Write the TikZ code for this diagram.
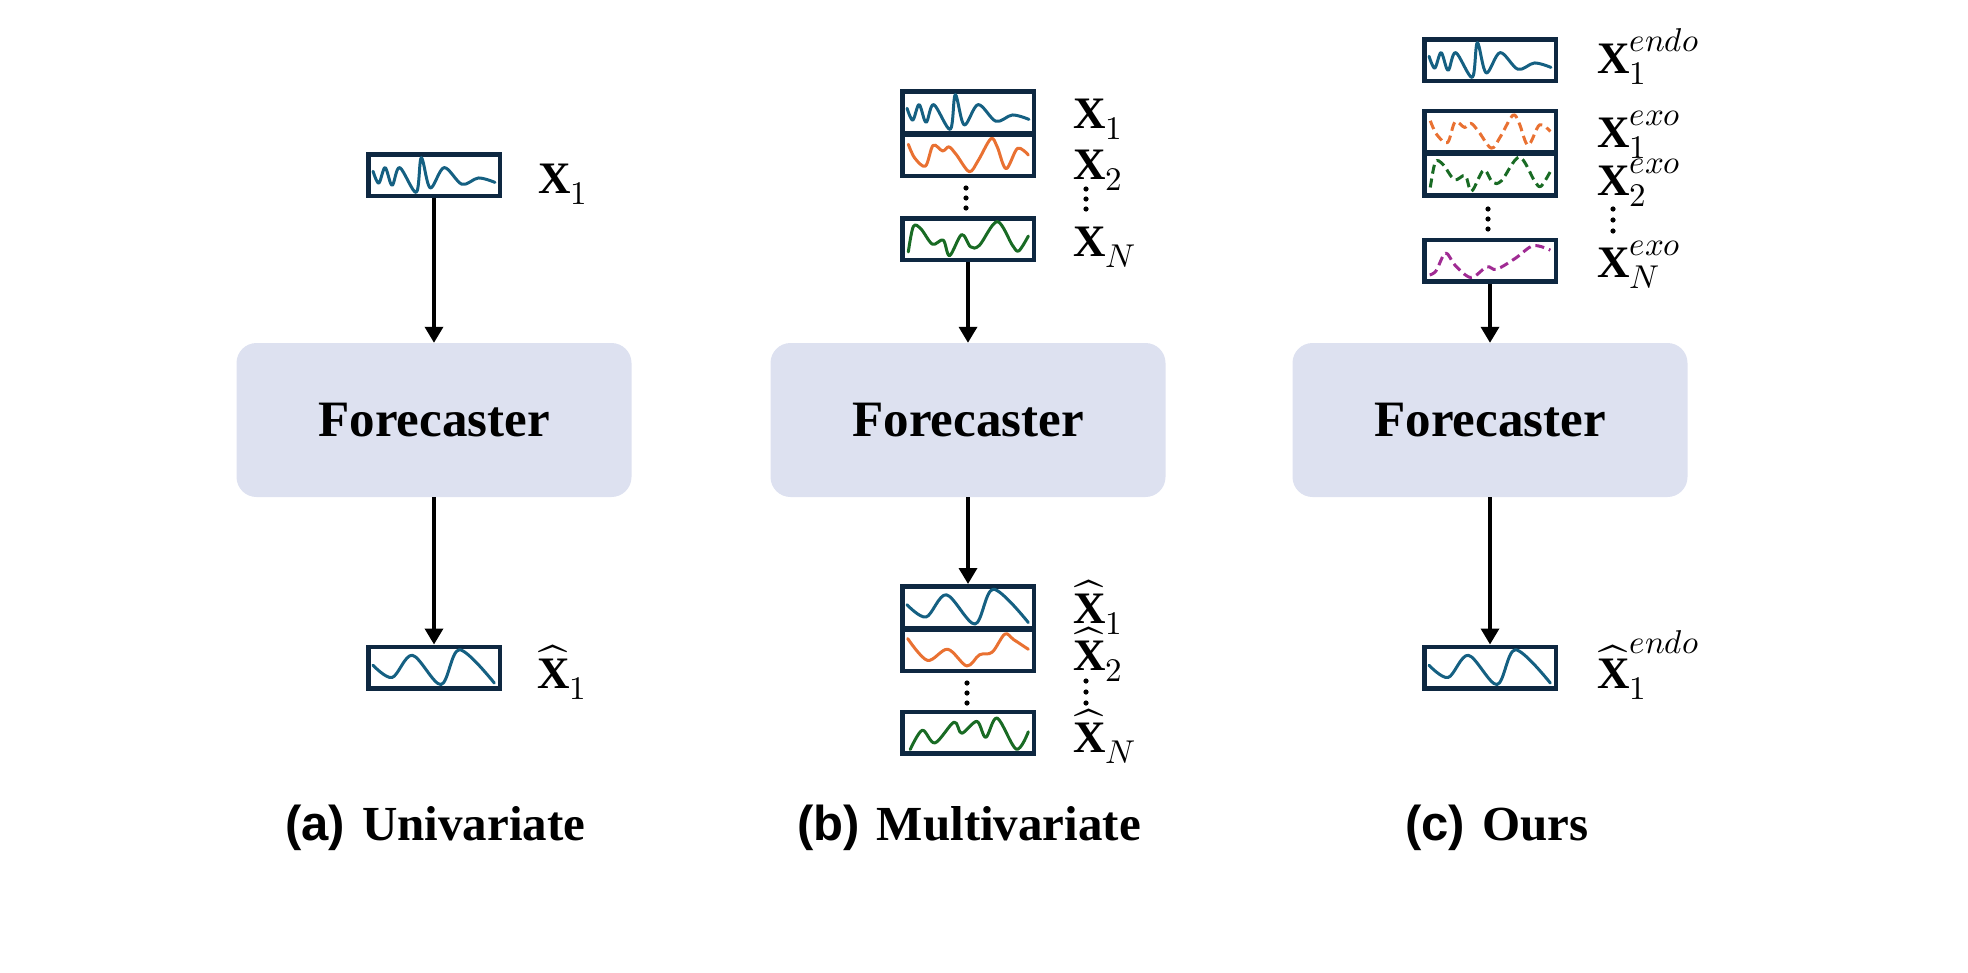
\documentclass[tikz,border=0pt]{standalone}
\usepackage{amsmath}
\usepackage{fontspec}
\usepackage{unicode-math}
\setmainfont{Liberation Serif}
\setmathfont{Latin Modern Math}
\newfontfamily\sansbf{Liberation Sans}
\usetikzlibrary{arrows.meta}
\definecolor{boxc}{HTML}{0E2841}
\definecolor{wblue}{HTML}{156082}
\definecolor{worange}{HTML}{E97132}
\definecolor{wgreen}{HTML}{196B24}
\definecolor{wpurple}{HTML}{A02B93}
\definecolor{fcfill}{HTML}{DDE1F0}
\newcommand\BX{\hbox{\bfseries X}}
\newcommand\HX{\widehat{\hbox{\bfseries X}}}
\newcommand\sm[1]{\hbox{\fontsize{33}{40}\selectfont$#1$}}
\newcommand\wavebox[3]{\begin{scope}[shift={(#1.center)},shift={(-63.5pt,18.5pt)},x={(127pt,0pt)},y={(0pt,-37pt)}]\draw[#2] plot[smooth,tension=0.55] coordinates {#3};\end{scope}}
\def\Wone{(0.02,0.40) (0.065,0.72) (0.115,0.30) (0.17,0.78) (0.23,0.30) (0.36,0.97) (0.40,0.03) (0.47,0.85) (0.58,0.30) (0.72,0.75) (0.85,0.58) (0.98,0.70)}
\def\Wtwo{(0.03,0.21) (0.08,0.58) (0.165,0.80) (0.225,0.24) (0.30,0.39) (0.35,0.28) (0.41,0.50) (0.51,0.95) (0.58,0.65) (0.68,0.06) (0.73,0.28) (0.80,0.87) (0.89,0.32) (0.975,0.50)}
\def\Wn{(0.03,0.85) (0.07,0.16) (0.13,0.23) (0.22,0.64) (0.305,0.53) (0.355,0.95) (0.45,0.38) (0.52,0.71) (0.59,0.67) (0.73,0.03) (0.85,0.67) (0.90,0.82) (0.975,0.42)}
\def\Fone{(0.02,0.44) (0.17,0.77) (0.33,0.17) (0.555,0.96) (0.70,0.02) (0.975,0.92)}
\def\Ftwo{(0.025,0.19) (0.18,0.78) (0.34,0.48) (0.49,0.93) (0.59,0.63) (0.69,0.56) (0.79,0.07) (0.86,0.22) (0.975,0.48)}
\def\Fn{(0.045,0.96) (0.14,0.44) (0.24,0.78) (0.39,0.22) (0.45,0.52) (0.57,0.20) (0.64,0.63) (0.73,0.11) (0.88,0.95) (0.975,0.48)}
\def\Wpur{(0.025,0.89) (0.075,0.78) (0.15,0.30) (0.225,0.63) (0.35,0.96) (0.475,0.67) (0.55,0.74) (0.70,0.44) (0.84,0.10) (0.975,0.22)}
\tikzset{
  series/.style={draw=boxc, line width=4.5pt, minimum width=131.5pt, minimum height=41.5pt, inner sep=0pt},
  fcbox/.style={fill=fcfill, rounded corners=20pt, minimum width=395pt, minimum height=154pt, inner sep=0pt, font=\bfseries\fontsize{51}{60}\selectfont},
  flow/.style={line width=3.5pt, -{Triangle[width=18pt,length=16pt]}},
  lbl/.style={anchor=base west, inner sep=0pt, font=\fontsize{45}{54}\selectfont},
  wave/.style={line width=3pt, line join=round, line cap=round},
  dwave/.style={line width=3pt, line join=round, dash pattern=on 9pt off 5pt},
  capstyle/.style={anchor=base west, inner sep=0pt, font=\bfseries\fontsize{49}{58}\selectfont},
  dotfill/.style={fill=black}
}
\begin{document}
\begin{tikzpicture}[x=1pt,y=-1pt]
\useasboundingbox (0,0) rectangle (1968,972);
% ---------- (a) ----------
\node[series] (ain) at (434,175) {};
\node[fcbox] (afc) at (434,420) {Forecaster};
\node[series] (aout) at (434,667.5) {};
\wavebox{ain}{wave,wblue}{\Wone}
\wavebox{aout}{wave,wblue}{\Fone}
\draw[flow] (ain) -- (afc);
\draw[flow] (afc) -- (aout);
\node[lbl] (la1) at (538,193) {$\BX_{\sm{1}}$};
\node[lbl] (la2) at (537,688) {$\HX_{\sm{1}}$};
% ---------- (b) ----------
\node[series] (b1) at (968,112) {};
\node[series] (b2) at (968,155) {};
\node[series] (bn) at (968,239) {};
\node[fcbox] (bfc) at (968,420) {Forecaster};
\node[series] (o1) at (968,607) {};
\node[series] (o2) at (968,650) {};
\node[series] (on) at (968,732.5) {};
\wavebox{b1}{wave,wblue}{\Wone}
\wavebox{b2}{wave,worange}{\Wtwo}
\wavebox{bn}{wave,wgreen}{\Wn}
\wavebox{o1}{wave,wblue}{\Fone}
\wavebox{o2}{wave,worange}{\Ftwo}
\wavebox{on}{wave,wgreen}{\Fn}
\foreach \yy in {188,198,208} \fill[dotfill] (966,\yy) circle (2.6pt);
\foreach \yy in {683,693,703} \fill[dotfill] (967,\yy) circle (2.6pt);
\draw[flow] (bn) -- (bfc);
\draw[flow] (bfc) -- (o1);
\node[lbl] (lb1) at (1073,128) {$\BX_{\sm{1}}$};
\node[lbl] (lb2) at (1073,179) {$\BX_{\sm{2}}$};
\node[lbl] (lbn) at (1073,256) {$\BX_{\sm{N}}$};
\foreach \yy in {189,199,209} \fill[dotfill] (1086,\yy) circle (2.6pt);
\node[lbl] (lo1) at (1073,623) {$\HX_{\sm{1}}$};
\node[lbl] (lo2) at (1073,670) {$\HX_{\sm{2}}$};
\node[lbl] (lon) at (1073,752) {$\HX_{\sm{N}}$};
\foreach \yy in {681,692,703} \fill[dotfill] (1086,\yy) circle (2.6pt);
% ---------- (c) ----------
\node[series] (cen) at (1490,60) {};
\node[series] (ce1) at (1490,131.5) {};
\node[series] (ce2) at (1490,174.5) {};
\node[series] (cen2) at (1490,260.5) {};
\node[fcbox] (cfc) at (1490,420) {Forecaster};
\node[series] (cout) at (1490,667.5) {};
\wavebox{cen}{wave,wblue}{\Wone}
\wavebox{ce1}{dwave,worange}{\Wtwo}
\wavebox{ce2}{dwave,wgreen}{\Wn}
\wavebox{cen2}{dwave,wpurple}{\Wpur}
\wavebox{cout}{wave,wblue}{\Fone}
\foreach \yy in {209,219,229} \fill[dotfill] (1488,\yy) circle (2.6pt);
\draw[flow] (cen2) -- (cfc);
\draw[flow] (cfc) -- (cout);
\node[lbl] (lc0) at (1597,73) {$\BX_{\sm{1}}^{\sm{endo}}$};
\node[lbl] (lc1) at (1597,147) {$\BX_{\sm{1}}^{\sm{exo}}$};
\node[lbl] (lc2) at (1597,195) {$\BX_{\sm{2}}^{\sm{exo}}$};
\node[lbl] (lcn) at (1597,277) {$\BX_{\sm{N}}^{\sm{exo}}$};
\foreach \yy in {209,220,231} \fill[dotfill] (1613,\yy) circle (2.6pt);
\node[lbl] (lco) at (1597,688) {$\HX_{\sm{1}}^{\sm{endo}}$};
% ---------- captions ----------
\node[capstyle] (capa) at (285,840) {{\sansbf (a)}\hspace{0.35em}Univariate};
\node[capstyle] (capb) at (797,840) {{\sansbf (b)}\hspace{0.35em}Multivariate};
\node[capstyle] (capc) at (1405,840) {{\sansbf (c)}\hspace{0.35em}Ours};
\end{tikzpicture}
\end{document}
